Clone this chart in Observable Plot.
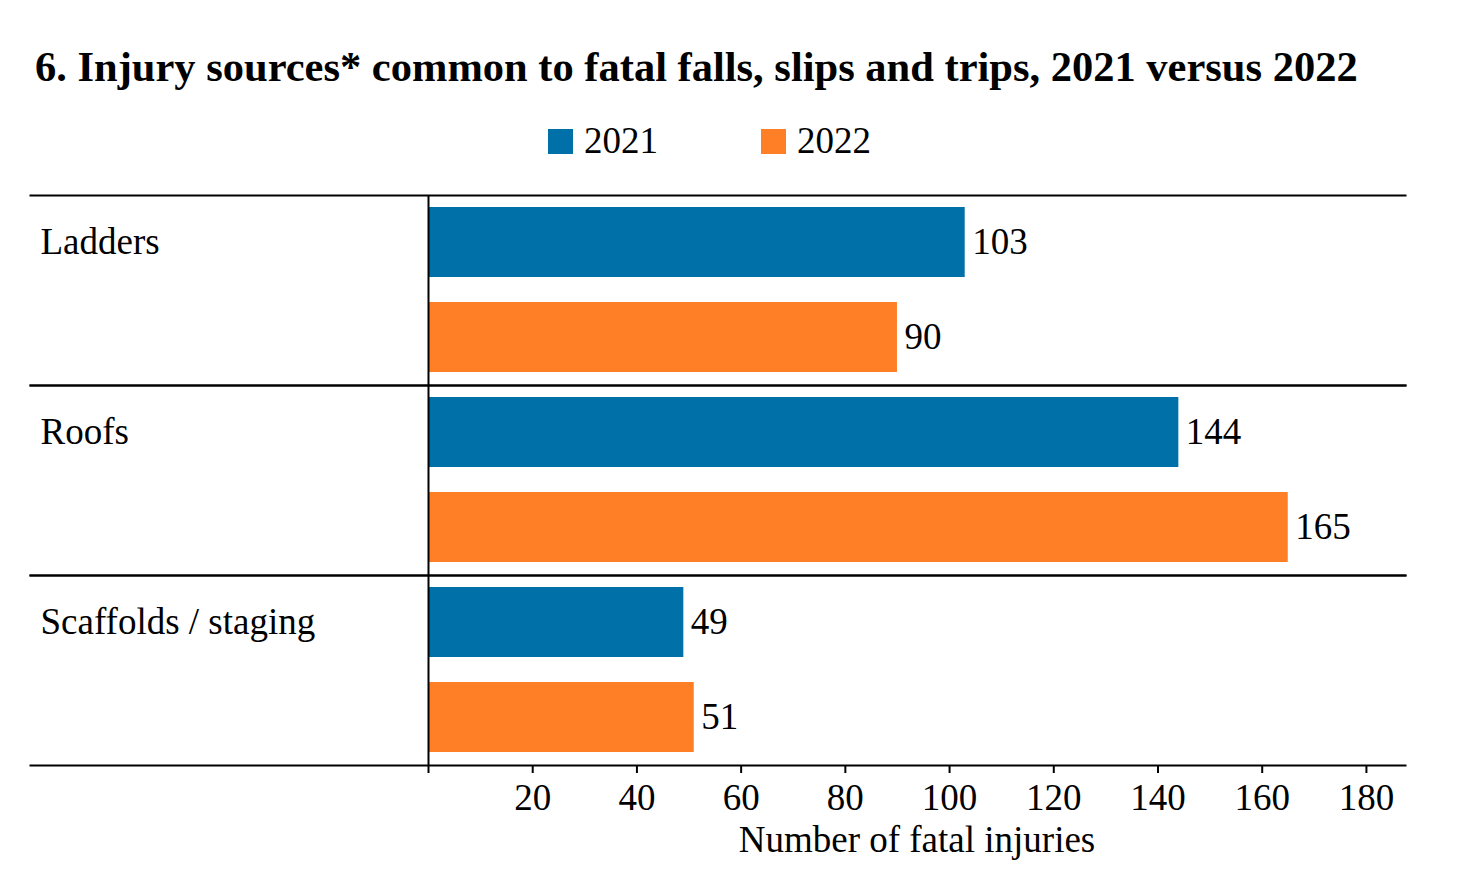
<!DOCTYPE html>
<html>
<head>
<meta charset="utf-8">
<script src="https://cdn.jsdelivr.net/npm/d3@7"></script>
<script src="https://cdn.jsdelivr.net/npm/@observablehq/plot@0.6"></script>
<style>
  html, body { margin: 0; padding: 0; background: #fff; }
  body { width: 1460px; height: 880px; overflow: hidden; font-family: "Liberation Serif", "Times New Roman", serif; color: #000; }
  #title { position: absolute; left: 35px; top: 46px; font-size: 42.5px; font-weight: bold; white-space: nowrap; line-height: 1; }
  #legend { position: absolute; top: 120px; left: 0; width: 1460px; font-size: 37px; line-height: 42px; }
  .item { position: absolute; display: flex; align-items: center; }
  .sw { width: 25px; height: 25px; margin-right: 11px; }
  #chart { position: absolute; left: 0; top: 175px; }
</style>
</head>
<body>
<div id="title">6. Injury sources* common to fatal falls, slips and trips, 2021 versus 2022</div>
<div id="legend"></div>
<div id="chart"></div>
<script>
const categories = ["Ladders", "Roofs", "Scaffolds / staging"];
const years = ["2021", "2022"];
const values2021 = [103, 144, 49];
const values2022 = [90, 165, 51];
const xTicks = [0, 20, 40, 60, 80, 100, 120, 140, 160, 180];
const colors = ["#0070a8", "#ff7f27"];
const legendLeft = [548, 761];

const data = categories.flatMap((c, i) => [
  {category: c, year: years[0], value: values2021[i]},
  {category: c, year: years[1], value: values2022[i]}
]);

// legend
const legend = document.getElementById("legend");
years.forEach((y, i) => {
  const it = document.createElement("div");
  it.className = "item";
  it.style.left = legendLeft[i] + "px";
  it.innerHTML = `<div class="sw" style="background:${colors[i]}"></div><span>${y}</span>`;
  legend.appendChild(it);
});

const lineStyle = {stroke: "black", strokeWidth: 2, insetLeft: -398};

const chart = Plot.plot({
  width: 1460,
  height: 700,
  marginTop: 20,
  marginBottom: 110,
  marginLeft: 428,
  marginRight: 55,
  style: {fontFamily: "'Liberation Serif', 'Times New Roman', serif", fontSize: "37px", color: "black", background: "white", overflow: "visible"},
  x: {domain: [0, 187.5]},
  y: {domain: years, axis: null, paddingInner: 0.26, paddingOuter: 0.13},
  fy: {domain: categories, axis: null, padding: 0},
  color: {domain: years, range: colors},
  marks: [
    Plot.barX(data, {fy: "category", y: "year", x: "value", fill: "year"}),
    Plot.text(data, {fy: "category", y: "year", x: "value", text: d => String(d.value), textAnchor: "start", dx: 7, fill: "black"}),
    Plot.text(categories, {fy: d => d, y: () => years[0], frameAnchor: "left", textAnchor: "start", dx: -388, fill: "black"}),
    Plot.frame({anchor: "top", ...lineStyle}),
    Plot.frame({anchor: "bottom", ...lineStyle}),
    Plot.ruleX([0], {stroke: "black", strokeWidth: 2}),
    Plot.axisX({
      ticks: xTicks,
      tickFormat: d => d === 0 ? "" : String(d),
      tickSize: 8,
      tickPadding: 10,
      strokeWidth: 2,
      label: "Number of fatal injuries",
      labelAnchor: "center",
      labelArrow: "none",
      labelOffset: 86
    })
  ]
});
document.getElementById("chart").appendChild(chart);
</script>
</body>
</html>
